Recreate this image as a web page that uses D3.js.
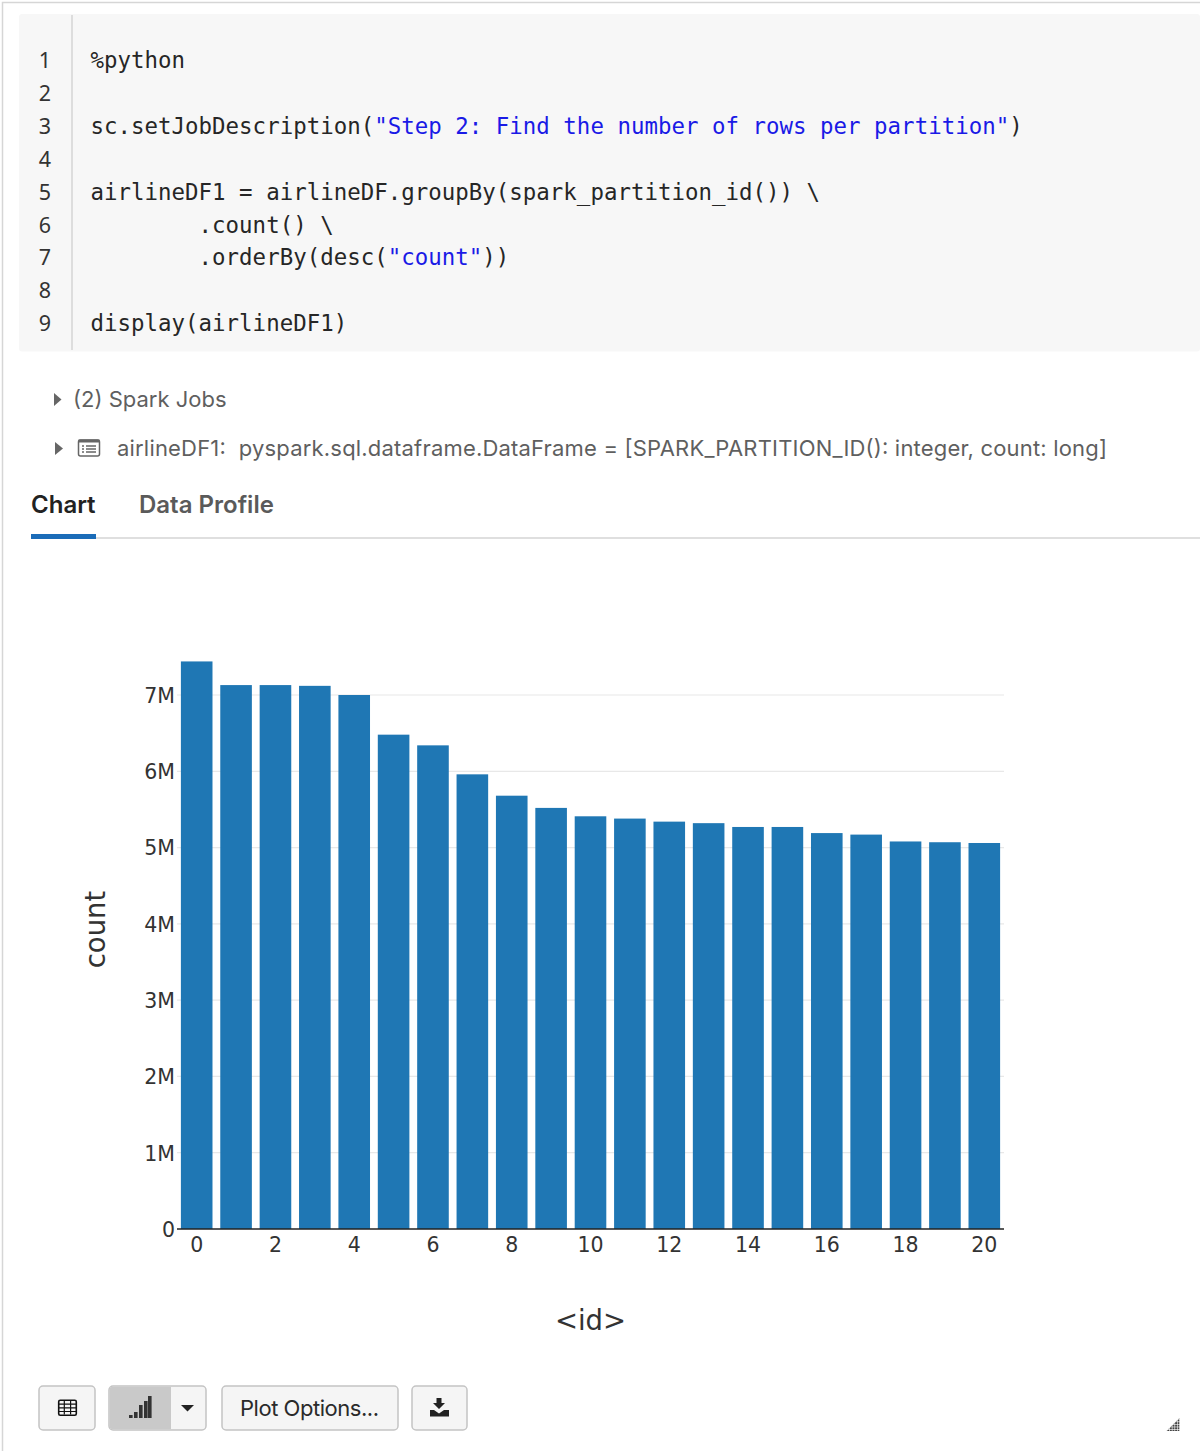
<!DOCTYPE html>
<html>
<head>
<meta charset="utf-8">
<style>
  html, body { margin: 0; padding: 0; background: #fff; }
  svg { display: block; }
  .code { font-family: "DejaVu Sans Mono", monospace; font-size: 22.4px; letter-spacing: 0.03px; fill: #262626; white-space: pre; }
  .code .str { fill: #1a1ae6; }
  .lineno { font-family: "Noto Sans", sans-serif; font-size: 21.5px; fill: #333; text-anchor: middle; }
  .ui { font-family: "Inter", "Liberation Sans", sans-serif; font-size: 22px; fill: #5f5f5f; }
  .tab { font-family: "Inter", "Liberation Sans", sans-serif; font-size: 24px; font-weight: 600; }
  .axis text { font-family: "DejaVu Sans", sans-serif; font-size: 20.5px; fill: #333; }
  .axis path { display: none; }
  .title { font-family: "DejaVu Sans", sans-serif; font-size: 27.5px; fill: #333; text-anchor: middle; }
  .btn { fill: #f5f5f5; stroke: #c4c4c4; stroke-width: 1.5; }
</style>
</head>
<body>
<svg id="page" width="1200" height="1451"></svg>
<script src="https://cdn.jsdelivr.net/npm/d3@7"></script>
<script>
// one count per partition
var partitionIds = d3.range(0, 21);
var counts = [7.44e6, 7.13e6, 7.13e6, 7.12e6, 7.0e6, 6.48e6, 6.34e6, 5.96e6, 5.68e6, 5.52e6, 5.41e6,
  5.38e6, 5.34e6, 5.32e6, 5.27e6, 5.27e6, 5.19e6, 5.17e6, 5.08e6, 5.07e6, 5.06e6];
var xTicks = [0, 2, 4, 6, 8, 10, 12, 14, 16, 18, 20];
var yTicks = [0, 1e6, 2e6, 3e6, 4e6, 5e6, 6e6, 7e6];
var yLabels = ['0', '1M', '2M', '3M', '4M', '5M', '6M', '7M'];

var codeLines = [
  [['%python', '']],
  [],
  [['sc.setJobDescription(', ''], ['"Step 2: Find the number of rows per partition"', 'str'], [')', '']],
  [],
  [['airlineDF1 = airlineDF.groupBy(spark_partition_id()) \\', '']],
  [['        .count() \\', '']],
  [['        .orderBy(desc(', ''], ['"count"', 'str'], ['))', '']],
  [],
  [['display(airlineDF1)', '']]
];

var svg = d3.select('#page');

// checker fill for the resize handle
svg.append('defs').append('pattern')
    .attr('id', 'checker')
    .attr('width', 2.6).attr('height', 2.6)
    .attr('patternUnits', 'userSpaceOnUse')
  .append('rect')
    .attr('width', 2).attr('height', 2).attr('fill', '#444');

// notebook cell frame
svg.append('path')
    .attr('d', 'M1200,2.5H2.5V1451')
    .attr('fill', 'none')
    .attr('stroke', '#d6d6d6')
    .attr('stroke-width', 1.5);

// code block
svg.append('rect')
    .attr('x', 19).attr('y', 14).attr('width', 1181).attr('height', 337.500).attr('rx', 3)
    .attr('fill', '#f7f7f7');
svg.append('line')
    .attr('x1', 72).attr('x2', 72).attr('y1', 15).attr('y2', 350)
    .attr('stroke', '#d4d4d4').attr('stroke-width', 1.5);

codeLines.forEach(function(segs, i) {
  var y = 68 + i * 32.9;
  svg.append('text').attr('class', 'lineno').attr('x', 45).attr('y', y).text(i + 1);
  var t = svg.append('text').attr('class', 'code').attr('x', 90.5).attr('y', y)
      .attr('xml:space', 'preserve');
  segs.forEach(function(s) {
    t.append('tspan').attr('class', s[1]).text(s[0]);
  });
});

// job rows
svg.append('path').attr('d', 'M54,393l7.5,6.5l-7.5,6.5z').attr('fill', '#666');
svg.append('text').attr('class', 'ui').attr('x', 73).attr('y', 407).text('(2) Spark Jobs');
svg.append('path').attr('d', 'M55,442l8,6.5l-8,6.5z').attr('fill', '#666');

var dfIcon = svg.append('g').attr('transform', 'translate(78,439)');
dfIcon.append('rect').attr('x', 0.5).attr('y', 1).attr('width', 21).attr('height', 16).attr('rx', 2)
    .attr('fill', '#fff').attr('stroke', '#666').attr('stroke-width', 1.5);
dfIcon.append('rect').attr('x', 0.5).attr('y', 0.5).attr('width', 21).attr('height', 3).attr('fill', '#666');
[7, 10, 13].forEach(function(y) {
  dfIcon.append('path').attr('d', 'M4,' + y + 'h2M8,' + y + 'h10').attr('stroke', '#666').attr('stroke-width', 1.5);
});

svg.append('text').attr('class', 'ui').attr('x', 117).attr('y', 456)
    .text('airlineDF1:  pyspark.sql.dataframe.DataFrame = [SPARK_PARTITION_ID(): integer, count: long]')
    .attr('xml:space', 'preserve')
    .attr('textLength', 990).attr('lengthAdjust', 'spacing');

// tabs
svg.append('text').attr('class', 'tab').attr('x', 31).attr('y', 513).attr('fill', '#222').text('Chart');
svg.append('text').attr('class', 'tab').attr('x', 139).attr('y', 513).attr('fill', '#5a5a5a').text('Data Profile');
svg.append('line').attr('x1', 31).attr('x2', 1200).attr('y1', 538).attr('y2', 538)
    .attr('stroke', '#d4d4d4').attr('stroke-width', 1.5);
svg.append('rect').attr('x', 31).attr('y', 534).attr('width', 65).attr('height', 5).attr('fill', '#1b6cb8');

// chart
var xScale = d3.scaleLinear().domain([-0.5, 20.5]).range([177, 1004]);
var yScale = d3.scaleLinear().domain([0, 7e6]).range([1229, 695]);
var barWidth = 31.6;

var yAxis = d3.axisLeft(yScale)
    .tickValues(yTicks)
    .tickSize(0)
    .tickPadding(2)
    .tickFormat(function(d, i) { return yLabels[i]; });

svg.append('g')
    .attr('class', 'y axis')
    .attr('transform', 'translate(177,0.8)')
    .call(yAxis);

svg.selectAll('.grid')
    .data(yTicks.slice(1))
  .enter().append('line')
    .attr('class', 'grid')
    .attr('x1', 177).attr('x2', 1004)
    .attr('y1', function(d) { return yScale(d); })
    .attr('y2', function(d) { return yScale(d); })
    .attr('stroke', '#e8e8e8').attr('stroke-width', 1.2);

svg.selectAll('.bar')
    .data(counts)
  .enter().append('rect')
    .attr('class', 'bar')
    .attr('x', function(d, i) { return xScale(partitionIds[i]) - barWidth / 2; })
    .attr('y', function(d) { return yScale(d); })
    .attr('width', barWidth)
    .attr('height', function(d) { return yScale(0) - yScale(d); })
    .attr('fill', '#1f77b4');

var xAxis = d3.axisBottom(xScale)
    .tickValues(xTicks)
    .tickSize(0)
    .tickPadding(8)
    .tickFormat(d3.format('d'));

svg.append('g')
    .attr('class', 'x axis')
    .attr('transform', 'translate(-0.5,1229)')
    .call(xAxis);

svg.append('line').attr('x1', 177).attr('x2', 1004)
    .attr('y1', yScale(0)).attr('y2', yScale(0))
    .attr('stroke', '#222').attr('stroke-width', 1.5);

svg.append('text').attr('class', 'title').attr('x', 590.5).attr('y', 1330).text('<id>');
svg.append('text').attr('class', 'title')
    .attr('transform', 'translate(104.500,929.500) rotate(-90)').text('count');

// toolbar
function button(x, w) {
  svg.append('rect').attr('class', 'btn')
      .attr('x', x).attr('y', 1386).attr('width', w).attr('height', 44).attr('rx', 4);
}
button(39, 56);
button(109, 97);
button(222, 176);
button(412, 55);

// pressed half of the chart-type button
svg.append('path').attr('d', 'M171,1386.7H113a3.3,3.3 0 0 0 -3.3,3.3V1426a3.3,3.3 0 0 0 3.3,3.3H171z')
    .attr('fill', '#c9c9c9');

// table icon
var tableIcon = svg.append('g').attr('transform', 'translate(58,1399.500)');
tableIcon.append('rect').attr('x', 0.7).attr('y', 0.7).attr('width', 17.6).attr('height', 15).attr('rx', 1.5)
    .attr('fill', 'none').attr('stroke', '#111').attr('stroke-width', 1.6);
tableIcon.append('path').attr('d', 'M0,4.7H18M0,8.3H18M0,12H18M6.3,1V15M12.6,1V15')
    .attr('stroke', '#111').attr('stroke-width', 1.2);

// signal-bars icon
[[129, 3], [134, 6], [139, 13], [144, 17], [148, 22]].forEach(function(b) {
  svg.append('rect').attr('x', b[0]).attr('y', 1418 - b[1]).attr('width', 3.6).attr('height', b[1]).attr('fill', '#333');
});

svg.append('path').attr('d', 'M181,1405h13l-6.5,6.5z').attr('fill', '#222');

svg.append('text').attr('class', 'ui').attr('x', 240).attr('y', 1416)
    .style('fill', '#2a2a2a')
    .attr('textLength', 139).attr('lengthAdjust', 'spacing')
    .text('Plot Options...');

// download icon
svg.append('path').attr('d', 'M436.500,1398h5v5h3.500l-6,6l-6,-6h3.500z').attr('fill', '#222');
svg.append('path').attr('d', 'M430,1410h4l5,3.500l5,-3.500h5v6.500h-19z').attr('fill', '#222');

// resize handle
svg.append('path')
    .attr('d', 'M1166.500,1431L1179.500,1418V1431z')
    .attr('fill', 'url(#checker)');
</script>
</body>
</html>
